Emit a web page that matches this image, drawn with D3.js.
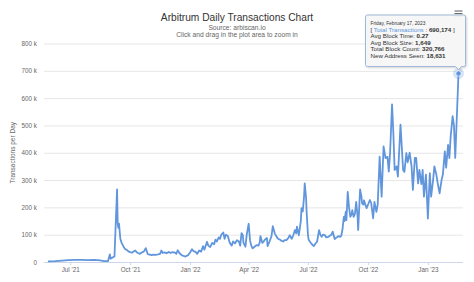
<!DOCTYPE html>
<html>
<head>
<meta charset="utf-8">
<script src="https://cdn.jsdelivr.net/npm/d3@7"></script>
<style>
  body { margin: 0; background: #fff; }
  svg { display: block; font-family: "Liberation Sans", Arial, sans-serif; }
</style>
</head>
<body>
<svg id="chart" width="474" height="282"></svg>
<script>

// Daily transactions (thousands)
const dates = [
  "2021-05-28","2021-06-08","2021-06-19","2021-06-28","2021-07-09","2021-07-19","2021-07-29","2021-08-07",
  "2021-08-16","2021-08-22","2021-08-28","2021-08-31","2021-09-01","2021-09-03","2021-09-07","2021-09-11",
  "2021-09-12","2021-09-13","2021-09-14","2021-09-16","2021-09-18","2021-09-21","2021-09-23","2021-09-26",
  "2021-09-29","2021-10-01","2021-10-04","2021-10-06","2021-10-09","2021-10-11","2021-10-13","2021-10-16",
  "2021-10-19","2021-10-22","2021-10-25","2021-10-28","2021-10-31","2021-11-03","2021-11-06","2021-11-09",
  "2021-11-13","2021-11-16","2021-11-18","2021-11-20","2021-11-23","2021-11-26","2021-11-29","2021-12-02",
  "2021-12-05","2021-12-09","2021-12-11","2021-12-13","2021-12-16","2021-12-19","2021-12-22","2021-12-25",
  "2021-12-29","2022-01-01","2022-01-04","2022-01-06","2022-01-09","2022-01-12","2022-01-15","2022-01-18",
  "2022-01-21","2022-01-23","2022-01-27","2022-01-29","2022-02-01","2022-02-04","2022-02-07","2022-02-09",
  "2022-02-11","2022-02-14","2022-02-16","2022-02-18","2022-02-21","2022-02-23","2022-02-25","2022-02-28",
  "2022-03-03","2022-03-06","2022-03-08","2022-03-11","2022-03-14","2022-03-17","2022-03-19","2022-03-21",
  "2022-03-23","2022-03-24","2022-03-27","2022-03-29","2022-04-01","2022-04-03","2022-04-05","2022-04-07",
  "2022-04-10","2022-04-13","2022-04-16","2022-04-18","2022-04-19","2022-04-22","2022-04-24","2022-04-26",
  "2022-04-29","2022-04-30","2022-05-03","2022-05-06","2022-05-08","2022-05-11","2022-05-14","2022-05-16",
  "2022-05-19","2022-05-21","2022-05-24","2022-05-26","2022-05-29","2022-06-01","2022-06-03","2022-06-06",
  "2022-06-08","2022-06-11","2022-06-13","2022-06-14","2022-06-16","2022-06-17","2022-06-20","2022-06-21",
  "2022-06-23","2022-06-25","2022-06-26","2022-06-28","2022-06-29","2022-07-01","2022-07-02","2022-07-04",
  "2022-07-07","2022-07-10","2022-07-12","2022-07-15","2022-07-18","2022-07-20","2022-07-22","2022-07-24",
  "2022-07-27","2022-07-29","2022-08-01","2022-08-03","2022-08-06","2022-08-08","2022-08-11","2022-08-14",
  "2022-08-17","2022-08-19","2022-08-21","2022-08-23","2022-08-25","2022-08-26","2022-08-28","2022-08-29",
  "2022-08-31","2022-09-02","2022-09-04","2022-09-06","2022-09-07","2022-09-09","2022-09-11","2022-09-13",
  "2022-09-15","2022-09-16","2022-09-19","2022-09-21","2022-09-22","2022-09-24","2022-09-25","2022-09-27",
  "2022-09-29","2022-10-02","2022-10-04","2022-10-06","2022-10-09","2022-10-11","2022-10-14","2022-10-16",
  "2022-10-19","2022-10-22","2022-10-25","2022-10-28","2022-10-31","2022-11-02","2022-11-04","2022-11-07",
  "2022-11-09","2022-11-11","2022-11-14","2022-11-16","2022-11-20","2022-11-22","2022-11-24","2022-11-26",
  "2022-11-29","2022-12-01","2022-12-04","2022-12-07","2022-12-09","2022-12-12","2022-12-14","2022-12-17",
  "2022-12-19","2022-12-22","2022-12-24","2022-12-26","2022-12-29","2022-12-31","2023-01-01","2023-01-04",
  "2023-01-06","2023-01-09","2023-01-11","2023-01-14","2023-01-16","2023-01-19","2023-01-22","2023-01-24",
  "2023-01-27","2023-01-29","2023-02-01","2023-02-03","2023-02-05","2023-02-08","2023-02-10","2023-02-12",
  "2023-02-17"
];
const txK = [
  2, 3, 5, 7, 8, 8, 7, 8,
  6, 3, 3, 28, 12, 15, 20, 266,
  140, 125, 140, 85, 70, 56, 48, 44,
  38, 36, 34, 38, 42, 36, 33, 30,
  35, 38, 51, 29, 27, 25, 27, 26,
  28, 30, 42, 33, 35, 32, 37, 33,
  36, 34, 30, 43, 32, 25, 22, 20,
  25, 35, 47, 40, 38, 30, 42, 38,
  58, 45, 74, 60, 55, 70, 65, 82,
  75, 90, 85, 100, 108, 85, 100, 95,
  70, 60, 75, 68, 80, 75, 60, 106,
  98, 70, 56, 100, 140, 80, 60, 50,
  56, 62, 60, 72, 95, 70, 75, 82,
  88, 58, 75, 95, 131, 105, 92, 85,
  82, 78, 75, 80, 80, 88, 98, 85,
  95, 117, 105, 129, 110, 98, 150, 197,
  185, 240, 288, 238, 180, 98, 82, 74,
  65, 58, 66, 75, 117, 100, 92, 100,
  98, 90, 92, 95, 100, 111, 84, 90,
  95, 92, 95, 120, 165, 150, 184, 153,
  257, 200, 165, 175, 190, 165, 175, 220,
  170, 117, 266, 240, 215, 210, 226, 210,
  197, 215, 227, 216, 160, 220, 184, 210,
  386, 239, 423, 380, 385, 331, 400, 577,
  473, 337, 350, 313, 503, 420, 337, 330,
  399, 365, 400, 350, 264, 381, 381, 288,
  337, 285, 337, 239, 320, 214, 159, 325,
  239, 300, 350, 320, 290, 251, 300, 320,
  405, 345, 429, 380, 460, 534, 500, 381,
  690.174
];

// Axis ticks
const yTicks = [0, 100, 200, 300, 400, 500, 600, 700, 800];
const xTickDates = ["2021-07-01", "2021-10-01", "2022-01-01", "2022-04-01", "2022-07-01", "2022-10-01", "2023-01-01"];
const xTickLabels = ["Jul '21", "Oct '21", "Jan '22", "Apr '22", "Jul '22", "Oct '22", "Jan '23"];

// Tooltip content for the hovered (last) point
const tipDate = "Friday, February 17, 2023";
const tipLabels = ["Avg Block Time: ", "Avg Block Size: ", "Total Block Count: ", "New Address Seen: "];
const tipValues = ["0.27", "1,649", "320,766", "18,631"];

const parse = d3.timeParse("%Y-%m-%d");
const data = dates.map((d, i) => ({ date: parse(d), value: txK[i] * 1000 }));

const svg = d3.select("svg#chart");
const blue = "#6196dd";

const plotLeft = 44, plotRight = 463, plotTop = 43.5, plotBottom = 262;

const x = d3.scaleTime()
    .domain(d3.extent(data, d => d.date))
    .range([plotLeft + 4, plotRight - 4.5]);

const y = d3.scaleLinear()
    .domain([0, 800000])
    .range([plotBottom, plotTop]);

// Title block
svg.append("text")
    .attr("x", 237).attr("y", 20.5)
    .attr("text-anchor", "middle")
    .style("font-size", "10.2px").style("fill", "#333")
    .text("Arbitrum Daily Transactions Chart");

svg.append("text")
    .attr("x", 237).attr("y", 29.5)
    .attr("text-anchor", "middle")
    .style("font-size", "6.7px").style("fill", "#666")
    .text("Source: arbiscan.io");

svg.append("text")
    .attr("x", 237).attr("y", 37)
    .attr("text-anchor", "middle")
    .style("font-size", "6.7px").style("fill", "#666")
    .text("Click and drag in the plot area to zoom in");

// Grid lines + y labels
const yAxis = d3.axisLeft(y)
    .tickValues(yTicks.map(v => v * 1000))
    .tickSize(-(plotRight - plotLeft))
    .tickPadding(7)
    .tickFormat(v => v === 0 ? "0" : (v / 1000) + " k");

const gy = svg.append("g")
    .attr("transform", "translate(" + plotLeft + ",0)")
    .call(yAxis);
gy.select(".domain").remove();
gy.selectAll("line").attr("stroke", "#e6e6e6").attr("stroke-width", 1);
gy.selectAll("text").style("font-size", "6.3px").style("fill", "#666").style("font-family", "Liberation Sans, Arial, sans-serif");

svg.append("text")
    .attr("transform", "translate(15," + ((plotTop + plotBottom) / 2) + ") rotate(-90)")
    .attr("text-anchor", "middle")
    .style("font-size", "6.5px").style("fill", "#666")
    .text("Transactions per Day");

// X axis
const xAxis = d3.axisBottom(x)
    .tickValues(xTickDates.map(parse))
    .tickSize(3)
    .tickPadding(3)
    .tickFormat((d, i) => xTickLabels[i]);

const gx = svg.append("g")
    .attr("transform", "translate(0," + plotBottom + ")")
    .call(xAxis);
gx.select(".domain")
    .attr("d", "M" + plotLeft + ",0.5H" + plotRight)
    .attr("stroke", "#ccd6eb");
gx.selectAll("line").attr("stroke", "#ccd6eb");
gx.selectAll("text").style("font-size", "6.3px").style("fill", "#666").style("font-family", "Liberation Sans, Arial, sans-serif");

// Series line
const line = d3.line()
    .x(d => x(d.date))
    .y(d => y(d.value));

svg.append("path")
    .datum(data)
    .attr("fill", "none")
    .attr("stroke", blue)
    .attr("stroke-width", 1.8)
    .attr("stroke-linejoin", "round")
    .attr("d", line);

// Hovered point with halo
const last = data[data.length - 1];
svg.append("circle")
    .attr("cx", x(last.date)).attr("cy", y(last.value))
    .attr("r", 5.5)
    .attr("fill", blue).attr("opacity", 0.25);
svg.append("circle")
    .attr("cx", x(last.date)).attr("cy", y(last.value))
    .attr("r", 2.6)
    .attr("fill", blue)
    .attr("stroke", "#fff").attr("stroke-width", 0.6);

// Export menu icon (partly hidden behind the tooltip)
svg.append("g").selectAll("line")
    .data([11, 13.6, 16.2])
    .enter().append("line")
    .attr("x1", 454.5).attr("x2", 462.5)
    .attr("y1", d => d).attr("y2", d => d)
    .attr("stroke", "#666").attr("stroke-width", 1.1);

// Tooltip
const px = x(last.date), py = y(last.value);
const bx0 = 365.5, bx1 = 465.5, by0 = 15, by1 = 66.5;
const tip = svg.append("g");

tip.append("path")
    .attr("d", "M" + (bx0 + 2) + "," + by0 + "H" + (bx1 - 2) + "Q" + bx1 + "," + by0 + " " + bx1 + "," + (by0 + 2) +
               "V" + (by1 - 2) + "Q" + bx1 + "," + by1 + " " + (bx1 - 2) + "," + by1 +
               "H" + (px + 3) + "L" + px + "," + (py - 4) + "L" + (px - 3) + "," + by1 +
               "H" + (bx0 + 2) + "Q" + bx0 + "," + by1 + " " + bx0 + "," + (by1 - 2) +
               "V" + (by0 + 2) + "Q" + bx0 + "," + by0 + " " + (bx0 + 2) + "," + by0 + "Z")
    .attr("fill", "rgba(248,248,248,0.92)")
    .attr("stroke", "#9fb8d8")
    .attr("stroke-width", 1)
    .style("filter", "drop-shadow(1px 1px 1px rgba(0,0,0,0.18))");

const tx = 370.5;
tip.append("text")
    .attr("x", tx).attr("y", 24.8)
    .style("font-size", "4.8px").style("fill", "#333")
    .text(tipDate);

const head = tip.append("text")
    .attr("x", tx).attr("y", 31.6)
    .style("font-size", "6.2px").style("fill", "#333");
head.append("tspan").text("[ ");
head.append("tspan").style("fill", blue).text("Total Transactions");
head.append("tspan").text(" :   ");
head.append("tspan").style("font-weight", "bold").text(d3.format(",")(Math.round(last.value)));
head.append("tspan").text(" ]");

tipLabels.forEach(function(lbl, i) {
  const t = tip.append("text")
      .attr("x", tx).attr("y", 38.2 + i * 6.6)
      .style("font-size", "6.2px").style("fill", "#333");
  t.append("tspan").text(lbl);
  t.append("tspan").style("font-weight", "bold").text(tipValues[i]);
});

</script>
</body>
</html>
